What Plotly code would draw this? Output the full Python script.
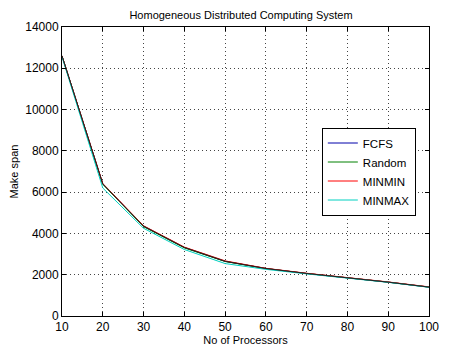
import plotly.graph_objects as go

processors = [10, 20, 30, 40, 50, 60, 70, 80, 90, 100]
fcfs   = [12600, 6400, 4350, 3320, 2650, 2300, 2060, 1860, 1640, 1400]
random_ = [12600, 6380, 4330, 3300, 2640, 2300, 2060, 1860, 1640, 1400]
minmin = [12600, 6420, 4370, 3340, 2670, 2310, 2070, 1870, 1650, 1410]
minmax = [12550, 6200, 4250, 3220, 2540, 2260, 2040, 1850, 1630, 1390]
yticks = [0, 2000, 4000, 6000, 8000, 10000, 12000, 14000]

names = ["FCFS", "Random", "MINMIN", "MINMAX"]
colors = ["#0000aa", "#008000", "#ff0000", "#00d0c0"]
series = [fcfs, random_, minmin, minmax]

fig = go.Figure()
for n, c, s in zip(names, colors, series):
    fig.add_trace(go.Scatter(x=processors, y=s, mode="lines", name=n,
                             line=dict(color=c, width=1)))
fig.add_trace(go.Scatter(x=processors, y=fcfs, mode="lines", showlegend=False,
                         line=dict(color="#202020", width=1), hoverinfo="skip"))

axis_common = dict(showline=True, linecolor="black", linewidth=1, mirror="ticks",
                   ticks="inside", ticklen=4, tickcolor="black", automargin=False,
                   showgrid=True, gridcolor="#444444", griddash="1px,3px", gridwidth=1,
                   zeroline=False, tickfont=dict(size=12, color="black"))

fig.update_layout(
    width=466, height=347,
    margin=dict(l=54, r=45, t=19, b=39),
    paper_bgcolor="white", plot_bgcolor="white",
    font=dict(family="Liberation Sans, Arial, sans-serif", size=11, color="black"),
    title=dict(text="Homogeneous Distributed Computing System", x=0.5, xanchor="center",
               y=0.98, yanchor="middle", font=dict(size=11), automargin=False),
    xaxis=dict(range=[10, 100], tickvals=processors,
               title=dict(text="No of Processors", standoff=2, font=dict(size=11)),
               **axis_common),
    yaxis=dict(range=[0, 14000], tickvals=yticks, ticktext=[str(v) for v in yticks],
               title=dict(text="Make span", standoff=6, font=dict(size=11)), **axis_common),
    legend=dict(x=0.708, y=0.5, xanchor="left", yanchor="middle",
                bordercolor="black", borderwidth=1, bgcolor="white",
                font=dict(size=11.5), tracegroupgap=0, itemwidth=30),
)
fig.write_html("out.html")
